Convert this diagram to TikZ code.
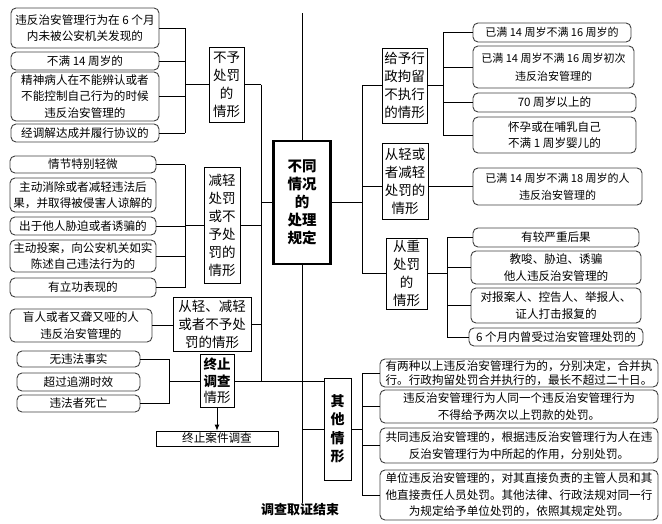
\documentclass[tikz,border=0pt]{standalone}
\usepackage{fontspec}
\setmainfont{Noto Sans CJK SC}
\usetikzlibrary{arrows.meta}

\begin{document}
\begin{tikzpicture}[x=1pt,y=-1pt,
  leaf/.style={draw=black!75,line width=0.9pt,rounded corners=5pt,fill=white,inner sep=1pt,align=center,font=\fontsize{11.6}{16.5}\selectfont},
  cat/.style={draw,line width=0.8pt,fill=white,inner sep=0pt,align=center,font=\fontsize{13.5}{18}\selectfont},
  root/.style={draw,line width=2.6pt,fill=white,inner sep=0pt,align=center,font=\bfseries\fontsize{14.5}{18}\selectfont},
  link/.style={line width=0.8pt}]
\useasboundingbox (0,0) rectangle (662,523);

% centre
\node[root,minimum width=57pt,minimum height=123pt] (root) at (302,202.5) {不同\\情况\\的\\处理\\规定};
\coordinate (top) at (302,13);
\node[font=\bfseries\fontsize{13}{15}\selectfont,inner sep=1pt] (done) at (300,510) {调查取证结束};

% left: not punished
\node[cat,minimum width=35pt,minimum height=75pt] (bz) at (226.5,84.5) {不予\\处罚\\的\\情形};
\node[leaf,minimum width=148pt,minimum height=40pt] (nb1) at (85,28) {违反治安管理行为在 6 个月\\内未被公安机关发现的};
\node[leaf,minimum width=148pt,minimum height=18pt] (nb2) at (85,61) {不满 14 周岁的};
\node[leaf,minimum width=148pt,minimum height=49pt] (nb3) at (85,96.5) {精神病人在不能辨认或者\\不能控制自己行为的时候\\违反治安管理的};
\node[leaf,minimum width=148pt,minimum height=18pt] (nb4) at (85,133) {经调解达成并履行协议的};

% left: reduced or not punished
\node[cat,minimum width=36pt,minimum height=116pt] (bj) at (222,225) {减轻\\处罚\\或不\\予处\\罚的\\情形};
\node[leaf,minimum width=146pt,minimum height=17pt] (nj1) at (83,164.5) {情节特别轻微};
\node[leaf,minimum width=146pt,minimum height=34pt] (nj2) at (83,195) {主动消除或者减轻违法后\\果，并取得被侵害人谅解的};
\node[leaf,minimum width=146pt,minimum height=18pt] (nj3) at (83,226) {出于他人胁迫或者诱骗的};
\node[leaf,minimum width=146pt,minimum height=32pt] (nj4) at (83,256) {主动投案，向公安机关如实\\陈述自己违法行为的};
\node[leaf,minimum width=146pt,minimum height=19pt] (nj5) at (83,287.5) {有立功表现的};

% left: lighter, reduced or none
\node[cat,minimum width=78pt,minimum height=54pt] (bc) at (212,324) {从轻、减轻\\或者不予处\\罚的情形};
\node[leaf,minimum width=142pt,minimum height=33pt] (nc1) at (81,325.5) {盲人或者又聋又哑的人\\违反治安管理的};

% left: investigation stopped
\node[cat,font=\fontsize{13.5}{16.5}\selectfont,minimum width=34pt,minimum height=53pt] (bt) at (217,381) {\textbf{终止}\\\textbf{调查}\\情形};
\node[leaf,minimum width=123pt,minimum height=16pt] (nt1) at (78.5,359) {无违法事实};
\node[leaf,minimum width=123pt,minimum height=18pt] (nt2) at (78.5,382) {超过追溯时效};
\node[leaf,minimum width=123pt,minimum height=17pt] (nt3) at (78.5,403.5) {违法者死亡};
\node[draw,line width=0.8pt,inner sep=0pt,minimum width=122pt,minimum height=15pt,font=\fontsize{11.6}{14}\selectfont] (nend) at (217,438.5) {终止案件调查};

% right: categories
\node[cat,minimum width=45pt,minimum height=75pt] (bg) at (404.5,85.5) {给予行\\政拘留\\不执行\\的情形};
\node[cat,minimum width=46pt,minimum height=76pt] (bl) at (405,181) {从轻或\\者减轻\\处罚的\\情形};
\node[cat,minimum width=41pt,minimum height=71pt] (bh) at (406.5,273.5) {从重\\处罚\\的\\情形};

% right: detention not executed
\node[leaf,font=\fontsize{11}{16}\selectfont,minimum width=158pt,minimum height=19pt] (ng1) at (552,32.5) {已满 14 周岁不满 16 周岁的};
\node[leaf,font=\fontsize{11}{18}\selectfont,minimum width=161pt,minimum height=42pt] (ng2) at (553.5,67) {已满 14 周岁不满 16 周岁初次\\违反治安管理的};
\node[leaf,minimum width=163pt,minimum height=19pt] (ng3) at (554.5,102.5) {70 周岁以上的};
\node[leaf,minimum width=163pt,minimum height=36pt] (ng4) at (554.5,135) {怀孕或在哺乳自己\\不满 1 周岁婴儿的};
\node[leaf,font=\fontsize{11}{17}\selectfont,minimum width=169pt,minimum height=37pt] (nl1) at (557.5,186.5) {已满 14 周岁不满 18 周岁的人\\违反治安管理的};

% right: heavier
\node[leaf,minimum width=166pt,minimum height=19pt] (nh1) at (556,237.5) {有较严重后果};
\node[leaf,minimum width=170pt,minimum height=33pt] (nh2) at (556,267.5) {教唆、胁迫、诱骗\\他人违反治安管理的};
\node[leaf,minimum width=170pt,minimum height=35pt] (nh3) at (556,305.5) {对报案人、控告人、举报人、\\证人打击报复的};
\node[leaf,minimum width=174pt,minimum height=18pt] (nh4) at (556,337) {6 个月内曾受过治安管理处罚的};

% bottom: other cases
\node[cat,font=\bfseries\fontsize{14}{18.5}\selectfont,minimum width=27pt,minimum height=102pt] (bq) at (337.5,429) {其\\他\\情\\形};
\node[leaf,font=\fontsize{11.6}{14}\selectfont,minimum width=278pt,minimum height=28pt] (nq1) at (519,373) {有两种以上违反治安管理行为的，分别决定，合并执\\行。行政拘留处罚合并执行的，最长不超过二十日。};
\node[leaf,minimum width=278pt,minimum height=33pt] (nq2) at (519,406.5) {违反治安管理行为人同一个违反治安管理行为\\不得给予两次以上罚款的处罚。};
\node[leaf,minimum width=278pt,minimum height=35pt] (nq3) at (519,445.5) {共同违反治安管理的，根据违反治安管理行为人在违\\反治安管理行为中所起的作用，分别处罚。};
\node[leaf,minimum width=278pt,minimum height=50pt] (nq4) at (519,495) {单位违反治安管理的，对其直接负责的主管人员和其\\他直接责任人员处罚。其他法律、行政法规对同一行\\为规定给予单位处罚的，依照其规定处罚。};

% bus lines
\coordinate (busA) at (185,0);
\coordinate (busC) at (169,0);
\coordinate (trunkL) at (261,0);
\coordinate (trunkR) at (362,0);
\coordinate (busD) at (443,0);
\coordinate (busE) at (447,0);

\foreach \n in {nb1,nb2,nb3,nb4} \draw[link] (\n.east) -- (\n.east -| busA);
\draw[link] (nb1.east -| busA) -- (nb4.east -| busA);
\draw[link] (busA |- bz.west) -- (bz.west);
\foreach \n in {nj1,nj3,nj4,nj5} \draw[link] (\n.east) -- (\n.east -| busA);
\draw[link] (nj1.east -| busA) -- (nj5.east -| busA);
\draw[link] (busA |- bj.west) -- (bj.west);
\draw[link] (nc1.east) -- (nc1.east -| bc.west);
\draw[link] (nt1.east) -- (nt1.east -| busC) -- (nt3.east -| busC) -- (nt3.east);
\draw[link] (busC |- bt.west) -- (bt.west);
\draw[link,-{Latex[length=6pt,width=5pt]}] (bt.south) -- (nend.north);

\draw[link] (bz.east) -- (bz.east -| trunkL);
\draw[link] (bj.east) -- (bj.east -| trunkL);
\draw[link] (bc.east) -- (bc.east -| trunkL);
\draw[link] (trunkL |- bz.east) -- (trunkL |- bt.east);
\draw[link] (bt.east) -- (bt.east -| bq.west);
\draw[link] (root.west) -- (root.west -| trunkL);
\draw[link] (root.north) -- (top);
\draw[link] (root.south) -- (root.south |- done.north);
\draw[link] (root.south |- bq.west) -- (bq.west);

\draw[link] (root.east) -- (root.east -| trunkR);
\draw[link] (trunkR |- bg.west) -- (trunkR |- bh.west);
\draw[link] (trunkR |- bg.west) -- (bg.west);
\draw[link] (trunkR |- nl1.west) -- (bl.west |- nl1.west);
\draw[link] (bl.east |- nl1.west) -- (nl1.west);
\draw[link] (trunkR |- bh.west) -- (bh.west);
\draw[link] (bg.east) -- (bg.east -| busD);
\foreach \n in {ng1,ng2,ng3,ng4} \draw[link] (\n.west) -- (\n.west -| busD);
\draw[link] (ng1.west -| busD) -- (ng4.west -| busD);
\draw[link] (bh.east) -- (bh.east -| busE);
\foreach \n in {nh1,nh2,nh3,nh4} \draw[link] (\n.west) -- (\n.west -| busE);
\draw[link] (nh1.west -| busE) -- (nh4.west -| busE);

\draw[link] (bq.east) -- (bq.east -| trunkR);
\foreach \n in {nq1,nq2,nq3,nq4} \draw[link] (\n.west) -- (\n.west -| trunkR);
\draw[link] (nq1.west -| trunkR) -- (nq4.west -| trunkR);
\end{tikzpicture}
\end{document}
